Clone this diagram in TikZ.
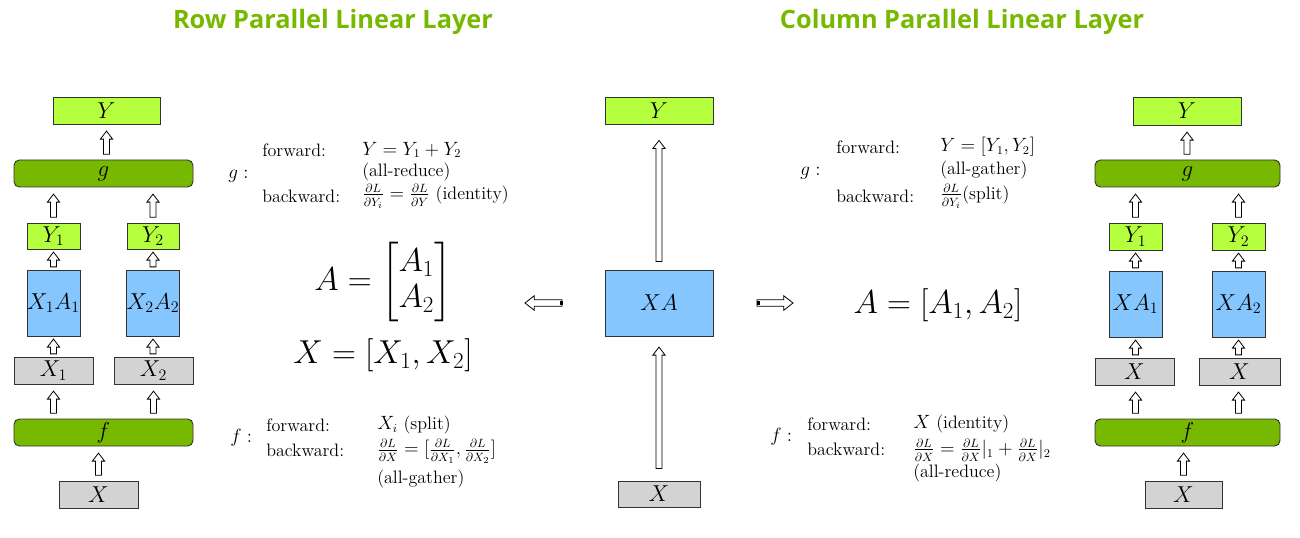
\documentclass[tikz,border=0pt]{standalone}
\usepackage{amsmath}
\usepackage{fontspec}
\newfontfamily\titlefont{Open Sans}
\usetikzlibrary{calc}
\definecolor{nvg}{RGB}{118,185,0}
\definecolor{lg}{RGB}{182,255,62}
\definecolor{bl}{RGB}{133,198,255}
\definecolor{gr}{RGB}{211,211,211}
\newcommand{\bx}[7]{\node[#6,minimum width={(#4-#2)*0.75pt},minimum height={(#5-#3)*0.75pt}] (#1) at ({(#2+#4)/2},{(#3+#5)/2}) {#7};}
% hollow up arrow from #1 (bottom) to #2 (top)
\newcommand{\uar}[2]{\draw[harr] let \p1=#1,\p2=#2 in (\x1-2.2pt,\y1) -- (\x1-2.2pt,\y2-6pt) -- (\x1-4.6pt,\y2-6pt) -- (\x1,\y2) -- (\x1+4.6pt,\y2-6pt) -- (\x1+2.2pt,\y2-6pt) -- (\x1+2.2pt,\y1) -- cycle;}
% hollow horizontal arrow from #1 to #2 (direction #3 = 1 right, -1 left)
\newcommand{\har}[3]{\draw[harr] let \p1=#1,\p2=#2 in (\x1,\y1-2.4pt) -- (\x2-#3*7pt,\y1-2.4pt) -- (\x2-#3*7pt,\y1-5.5pt) -- (\x2,\y1) -- (\x2-#3*7pt,\y1+5.5pt) -- (\x2-#3*7pt,\y1+2.4pt) -- (\x1,\y1+2.4pt) -- cycle;}
\tikzset{
 base/.style={draw=black!80,line width=0.7pt,inner sep=0pt,font=\fontsize{17}{19}\selectfont},
 ybox/.style={base,fill=lg},
 gbox/.style={base,fill=nvg,rounded corners=4pt},
 bbox/.style={base,fill=bl},
 xbox/.style={base,fill=gr},
 harr/.style={draw=black,line width=0.6pt,fill=white,line join=miter},
 ttl/.style={text=nvg,font=\titlefont\bfseries\fontsize{19}{22}\selectfont},
 txt/.style={font=\fontsize{13.5}{16}\selectfont,anchor=west,inner sep=0pt},
 big/.style={font=\fontsize{23}{27}\selectfont}
}
\begin{document}
\begin{tikzpicture}[x=0.75pt,y=-0.75pt]
\useasboundingbox (0,0) rectangle (1300,538);
\node[ttl] (t1) at (333,22) {Row Parallel Linear Layer};
\node[ttl] (t2) at (962,22) {Column Parallel Linear Layer};
% left stack
\bx{LY}{53}{97}{160}{124}{ybox}{$Y$}
\bx{Lg}{14}{160}{193}{187}{gbox}{$g$}
\bx{LY1}{27}{223}{80}{249}{ybox}{$Y_1$}
\bx{LY2}{127}{223}{179}{249}{ybox}{$Y_2$}
\bx{LA1}{27}{270}{80}{336}{bbox}{$X_1A_1$}
\bx{LA2}{127}{270}{179}{336}{bbox}{$X_2A_2$}
\bx{LX1}{14}{357}{93}{384}{xbox}{$X_1$}
\bx{LX2}{114}{357}{193}{384}{xbox}{$X_2$}
\bx{Lf}{14}{419}{193}{446}{gbox}{$f$}
\bx{LX}{59}{481}{138}{508}{xbox}{$X$}
\uar{([yshift=4pt]LX.north)}{([yshift=-5pt]LX|-Lf.south)}
\uar{([yshift=4pt]LX1|-Lf.north)}{([yshift=-5pt]LX1.south)}
\uar{([yshift=4pt]LX2|-Lf.north)}{([yshift=-5pt]LX2.south)}
\uar{([yshift=2pt]LA1|-LX1.north)}{([yshift=-2pt]LA1.south)}
\uar{([yshift=2pt]LA2|-LX2.north)}{([yshift=-2pt]LA2.south)}
\uar{([yshift=2pt]LA1.north)}{([yshift=-2pt]LY1.south)}
\uar{([yshift=2pt]LA2.north)}{([yshift=-2pt]LY2.south)}
\uar{([yshift=4pt]LY1.north)}{([yshift=-5pt]LY1|-Lg.south)}
\uar{([yshift=4pt]LY2.north)}{([yshift=-5pt]LY2|-Lg.south)}
\uar{([yshift=4pt]LY|-Lg.north)}{([yshift=-5pt]LY.south)}
% middle
\bx{MY}{605}{97}{713}{124}{ybox}{$Y$}
\bx{MA}{605}{270}{713}{336}{bbox}{$XA$}
\bx{MX}{618}{481}{700}{507}{xbox}{$X$}
\uar{([yshift=9pt]MX.north)}{([yshift=-8pt]MA.south)}
\uar{([yshift=6pt]MA.north)}{([yshift=-12pt]MY.south)}
\coordinate (la1) at (562,303); \coordinate (la2) at (525,303);
\coordinate (ra1) at (757,303); \coordinate (ra2) at (793,303);
\har{(la1)}{(la2)}{-1}
\fill (559.5,301.2) rectangle (562.5,304.8);
\har{(ra1)}{(ra2)}{1}
\fill (756.5,301.2) rectangle (759.5,304.8);
% right stack
\bx{RY}{1133}{97}{1241}{125}{ybox}{$Y$}
\bx{Rg}{1095}{160}{1280}{187}{gbox}{$g$}
\bx{RY1}{1109}{223}{1162}{250}{ybox}{$Y_1$}
\bx{RY2}{1212}{223}{1265}{250}{ybox}{$Y_2$}
\bx{RA1}{1109}{271}{1162}{337}{bbox}{$XA_1$}
\bx{RA2}{1212}{271}{1265}{337}{bbox}{$XA_2$}
\bx{RX1}{1095}{358}{1174}{385}{xbox}{$X$}
\bx{RX2}{1199}{358}{1280}{385}{xbox}{$X$}
\bx{Rf}{1095}{419}{1280}{446}{gbox}{$f$}
\bx{RX}{1145}{481}{1222}{508}{xbox}{$X$}
\uar{([yshift=4pt]RX.north)}{([yshift=-5pt]RX|-Rf.south)}
\uar{([yshift=4pt]RA1|-Rf.north)}{([yshift=-5pt]RA1|-RX1.south)}
\uar{([yshift=4pt]RA2|-Rf.north)}{([yshift=-5pt]RA2|-RX2.south)}
\uar{([yshift=2pt]RA1|-RX1.north)}{([yshift=-2pt]RA1.south)}
\uar{([yshift=2pt]RA2|-RX2.north)}{([yshift=-2pt]RA2.south)}
\uar{([yshift=2pt]RA1.north)}{([yshift=-2pt]RY1.south)}
\uar{([yshift=2pt]RA2.north)}{([yshift=-2pt]RY2.south)}
\uar{([yshift=4pt]RY1.north)}{([yshift=-5pt]RY1|-Rg.south)}
\uar{([yshift=4pt]RY2.north)}{([yshift=-5pt]RY2|-Rg.south)}
\uar{([yshift=4pt]RY|-Rg.north)}{([yshift=-5pt]RY.south)}
% left texts
\node[txt] (lg) at (228,176) {$g:$};
\node[txt] (lgf) at (262,150) {forward:};
\node[txt] (lgfm) at (362,150) {$Y=Y_1+Y_2$};
\node[txt] (lgr) at (362,172) {(all-reduce)};
\node[txt] (lgb) at (262,196) {backward:};
\node[txt] (lgbm) at (362,196) {$\frac{\partial L}{\partial Y_i}=\frac{\partial L}{\partial Y}$ (identity)};
\node[big] (eqA) at (383,282) {$A=\begin{bmatrix}A_1\\A_2\end{bmatrix}$};
\node[big] (eqX) at (383,355) {$X=[X_1,X_2]$};
\node[txt] (lf) at (230,438) {$f:$};
\node[txt] (lff) at (266,425) {forward:};
\node[txt] (lffm) at (377,425) {$X_i$ (split)};
\node[txt] (lfb) at (266,450) {backward:};
\node[txt] (lfbm) at (377,451) {$\frac{\partial L}{\partial X}=[\frac{\partial L}{\partial X_1},\frac{\partial L}{\partial X_2}]$};
\node[txt] (lfg) at (377,479) {(all-gather)};
% right texts
\node[txt] (rg) at (800,173) {$g:$};
\node[txt] (rgf) at (836,147) {forward:};
\node[txt] (rgfm) at (940,147) {$Y=[Y_1,Y_2]$};
\node[txt] (rgr) at (940,170) {(all-gather)};
\node[txt] (rgb) at (836,196) {backward:};
\node[txt] (rgbm) at (940,196) {$\frac{\partial L}{\partial Y_i}$(split)};
\node[big] (eqR) at (938,305) {$A=[A_1,A_2]$};
\node[txt] (rf) at (770,437) {$f:$};
\node[txt] (rff) at (807,424) {forward:};
\node[txt] (rffm) at (913,424) {$X$ (identity)};
\node[txt] (rfb) at (807,449) {backward:};
\node[txt] (rfbm) at (913,450) {$\frac{\partial L}{\partial X}=\frac{\partial L}{\partial X}|_1+\frac{\partial L}{\partial X}|_2$};
\node[txt] (rfr) at (913,473) {(all-reduce)};
\end{tikzpicture}
\end{document}
